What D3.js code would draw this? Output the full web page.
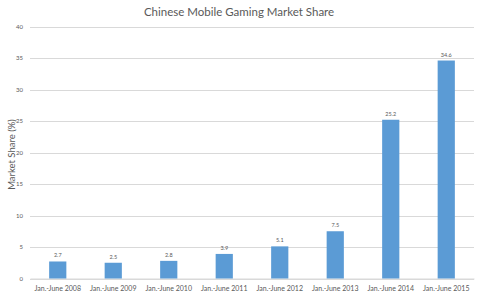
<!DOCTYPE html>
<html>
<head>
<meta charset="utf-8">
<script src="https://cdn.jsdelivr.net/npm/d3@7"></script>
<style>
body { margin: 0; background: #fff; }
text { font-family: Lato, "Open Sans", sans-serif; fill: #595959; }
</style>
</head>
<body>
<div id="grafica"></div>
<script>
var periodos = ['Jan.-June 2008', 'Jan.-June 2009', 'Jan.-June 2010', 'Jan.-June 2011', 'Jan.-June 2012', 'Jan.-June 2013', 'Jan.-June 2014', 'Jan.-June 2015'];
var cuota = [2.7, 2.5, 2.8, 3.9, 5.1, 7.5, 25.2, 34.6];
var marcas = [0, 5, 10, 15, 20, 25, 30, 35, 40];

var ancho = 480, alto = 296;
var izq = 30, der = 474, arriba = 26.5, abajo = 278.5;
var azul = "#5b9bd5";

var svg = d3.select("#grafica")
	.append("svg")
	.attr("width", ancho)
	.attr("height", alto);

var x = d3.scaleBand()
	.domain(periodos)
	.range([izq, der])
	.paddingInner(0.69)
	.paddingOuter(0.345);

var y = d3.scaleLinear()
	.domain([0, 40])
	.range([abajo, arriba]);

// lineas de la grilla
svg.append("g")
	.selectAll("line")
	.data(marcas)
	.join("line")
	.attr("x1", izq)
	.attr("x2", der)
	.attr("y1", d => Math.round(y(d)) + 0.5)
	.attr("y2", d => Math.round(y(d)) + 0.5)
	.attr("stroke", "#d9d9d9")
	.attr("stroke-width", 1);

// eje y
var ejeY = svg.append("g")
	.attr("transform", "translate(" + (izq - 7) + ",0)")
	.call(d3.axisLeft(y).tickValues(marcas).tickSize(0).tickPadding(0));
ejeY.select(".domain").remove();
ejeY.selectAll("text").attr("font-size", "6px").attr("fill", "#595959").style("font-family", "Lato, sans-serif");

// eje x
var ejeX = svg.append("g")
	.attr("transform", "translate(0," + abajo + ")")
	.call(d3.axisBottom(x).tickSize(0).tickPadding(8));
ejeX.select(".domain").attr("stroke", "#d9d9d9");
ejeX.selectAll("text").attr("font-size", "7px").attr("fill", "#595959").style("font-family", "Lato, sans-serif");

// barras
svg.append("g")
	.selectAll("rect")
	.data(cuota)
	.join("rect")
	.attr("x", (d, i) => x(periodos[i]))
	.attr("y", d => y(d))
	.attr("width", x.bandwidth())
	.attr("height", d => y(0) - y(d))
	.attr("fill", azul);

// etiquetas de valor
svg.append("g")
	.selectAll("text")
	.data(cuota)
	.join("text")
	.attr("x", (d, i) => x(periodos[i]) + x.bandwidth() / 2)
	.attr("y", d => y(d) - 4)
	.attr("text-anchor", "middle")
	.attr("font-size", "5.5px")
	.attr("fill", "#404040")
	.text(d => d);

// titulo
svg.append("text")
	.attr("x", 239)
	.attr("y", 15.5)
	.attr("text-anchor", "middle")
	.attr("font-size", "11.5px")
	.text("Chinese Mobile Gaming Market Share");

// titulo eje y
svg.append("text")
	.attr("transform", "translate(15," + (abajo - 124) + ") rotate(-90)")
	.attr("text-anchor", "middle")
	.attr("font-size", "9.5px")
	.text("Market Share (%)");
</script>
</body>
</html>
